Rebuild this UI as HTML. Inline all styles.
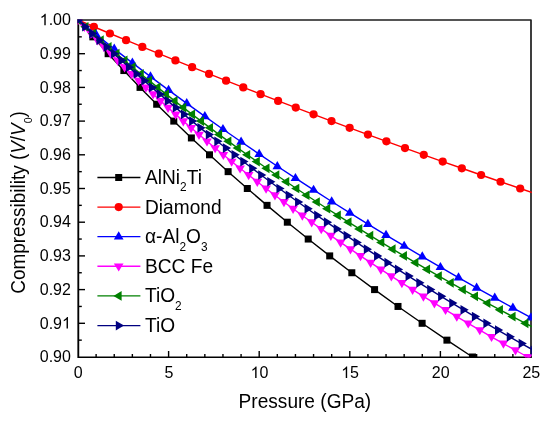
<!DOCTYPE html>
<html><head><meta charset="utf-8"><style>
html,body{margin:0;padding:0;background:#fff;}
svg{display:block;will-change:transform;font-family:"Liberation Sans",sans-serif;}
</style></head><body>
<svg width="550" height="421" viewBox="0 0 550 421">
<rect width="550" height="421" fill="#fff"/>
<defs><clipPath id="cp"><rect x="77.6" y="19.4" width="454.2" height="338.0"/></clipPath></defs>
<g stroke="#000" stroke-width="1.4" fill="none">
<line x1="96.12" y1="357.0" x2="96.12" y2="354.0"/>
<line x1="114.24" y1="357.0" x2="114.24" y2="354.0"/>
<line x1="132.36" y1="357.0" x2="132.36" y2="354.0"/>
<line x1="150.48" y1="357.0" x2="150.48" y2="354.0"/>
<line x1="168.60" y1="357.0" x2="168.60" y2="351.0"/>
<line x1="186.72" y1="357.0" x2="186.72" y2="354.0"/>
<line x1="204.84" y1="357.0" x2="204.84" y2="354.0"/>
<line x1="222.96" y1="357.0" x2="222.96" y2="354.0"/>
<line x1="241.08" y1="357.0" x2="241.08" y2="354.0"/>
<line x1="259.20" y1="357.0" x2="259.20" y2="351.0"/>
<line x1="277.32" y1="357.0" x2="277.32" y2="354.0"/>
<line x1="295.44" y1="357.0" x2="295.44" y2="354.0"/>
<line x1="313.56" y1="357.0" x2="313.56" y2="354.0"/>
<line x1="331.68" y1="357.0" x2="331.68" y2="354.0"/>
<line x1="349.80" y1="357.0" x2="349.80" y2="351.0"/>
<line x1="367.92" y1="357.0" x2="367.92" y2="354.0"/>
<line x1="386.04" y1="357.0" x2="386.04" y2="354.0"/>
<line x1="404.16" y1="357.0" x2="404.16" y2="354.0"/>
<line x1="422.28" y1="357.0" x2="422.28" y2="354.0"/>
<line x1="440.40" y1="357.0" x2="440.40" y2="351.0"/>
<line x1="458.52" y1="357.0" x2="458.52" y2="354.0"/>
<line x1="476.64" y1="357.0" x2="476.64" y2="354.0"/>
<line x1="494.76" y1="357.0" x2="494.76" y2="354.0"/>
<line x1="512.88" y1="357.0" x2="512.88" y2="354.0"/>
<line x1="78.0" y1="36.85" x2="81.8" y2="36.85"/>
<line x1="78.0" y1="53.70" x2="85.0" y2="53.70"/>
<line x1="78.0" y1="70.55" x2="81.8" y2="70.55"/>
<line x1="78.0" y1="87.40" x2="85.0" y2="87.40"/>
<line x1="78.0" y1="104.25" x2="81.8" y2="104.25"/>
<line x1="78.0" y1="121.10" x2="85.0" y2="121.10"/>
<line x1="78.0" y1="137.95" x2="81.8" y2="137.95"/>
<line x1="78.0" y1="154.80" x2="85.0" y2="154.80"/>
<line x1="78.0" y1="171.65" x2="81.8" y2="171.65"/>
<line x1="78.0" y1="188.50" x2="85.0" y2="188.50"/>
<line x1="78.0" y1="205.35" x2="81.8" y2="205.35"/>
<line x1="78.0" y1="222.20" x2="85.0" y2="222.20"/>
<line x1="78.0" y1="239.05" x2="81.8" y2="239.05"/>
<line x1="78.0" y1="255.90" x2="85.0" y2="255.90"/>
<line x1="78.0" y1="272.75" x2="81.8" y2="272.75"/>
<line x1="78.0" y1="289.60" x2="85.0" y2="289.60"/>
<line x1="78.0" y1="306.45" x2="81.8" y2="306.45"/>
<line x1="78.0" y1="323.30" x2="85.0" y2="323.30"/>
<line x1="78.0" y1="340.15" x2="81.8" y2="340.15"/>
</g>
<g fill="none" stroke-linejoin="round">
<path d="M78.3,20.0 L531.0,20.0 L531.0,357.0" stroke="#1e1e1e" stroke-width="1.7"/>
<path d="M78.3,19.15 L78.3,358.05" stroke="#000" stroke-width="1.85"/>
<path d="M78.0,357.3 L531.85,357.3" stroke="#000" stroke-width="1.5"/>
</g>
<g clip-path="url(#cp)"><path d="M78.00,20.00 L92.86,36.85 L108.14,53.70 L123.86,70.55 L140.03,87.40 L156.67,104.25 L173.78,121.10 L191.38,137.95 L209.50,154.80 L228.13,171.65 L247.30,188.50 L267.03,205.35 L287.32,222.20 L308.21,239.05 L329.70,255.90 L351.82,272.75 L374.58,289.60 L398.00,306.45 L422.12,323.30 L446.93,340.15 L472.48,357.00 L498.78,373.85" fill="none" stroke="#000000" stroke-width="1.4"/><rect x="74.50" y="16.50" width="7.00" height="7.00" fill="#000000"/><rect x="89.36" y="33.35" width="7.00" height="7.00" fill="#000000"/><rect x="104.64" y="50.20" width="7.00" height="7.00" fill="#000000"/><rect x="120.36" y="67.05" width="7.00" height="7.00" fill="#000000"/><rect x="136.53" y="83.90" width="7.00" height="7.00" fill="#000000"/><rect x="153.17" y="100.75" width="7.00" height="7.00" fill="#000000"/><rect x="170.28" y="117.60" width="7.00" height="7.00" fill="#000000"/><rect x="187.88" y="134.45" width="7.00" height="7.00" fill="#000000"/><rect x="206.00" y="151.30" width="7.00" height="7.00" fill="#000000"/><rect x="224.63" y="168.15" width="7.00" height="7.00" fill="#000000"/><rect x="243.80" y="185.00" width="7.00" height="7.00" fill="#000000"/><rect x="263.53" y="201.85" width="7.00" height="7.00" fill="#000000"/><rect x="283.82" y="218.70" width="7.00" height="7.00" fill="#000000"/><rect x="304.71" y="235.55" width="7.00" height="7.00" fill="#000000"/><rect x="326.20" y="252.40" width="7.00" height="7.00" fill="#000000"/><rect x="348.32" y="269.25" width="7.00" height="7.00" fill="#000000"/><rect x="371.08" y="286.10" width="7.00" height="7.00" fill="#000000"/><rect x="394.50" y="302.95" width="7.00" height="7.00" fill="#000000"/><rect x="418.62" y="319.80" width="7.00" height="7.00" fill="#000000"/><rect x="443.43" y="336.65" width="7.00" height="7.00" fill="#000000"/><rect x="468.98" y="353.50" width="7.00" height="7.00" fill="#000000"/><rect x="495.28" y="370.35" width="7.00" height="7.00" fill="#000000"/></g>
<g clip-path="url(#cp)"><path d="M78.00,20.00 L93.88,26.74 L109.90,33.48 L126.06,40.22 L142.36,46.96 L158.81,53.70 L175.41,60.44 L192.15,67.18 L209.04,73.92 L226.07,80.66 L243.26,87.40 L260.60,94.14 L278.10,100.88 L295.75,107.62 L313.56,114.36 L331.52,121.10 L349.65,127.84 L367.93,134.58 L386.38,141.32 L404.99,148.06 L423.77,154.80 L442.71,161.54 L461.83,168.28 L481.11,175.02 L500.57,181.76 L520.19,188.50 L540.00,195.24" fill="none" stroke="#ff0000" stroke-width="1.4"/><circle cx="78.00" cy="20.00" r="4.1" fill="#ff0000"/><circle cx="93.88" cy="26.74" r="4.1" fill="#ff0000"/><circle cx="109.90" cy="33.48" r="4.1" fill="#ff0000"/><circle cx="126.06" cy="40.22" r="4.1" fill="#ff0000"/><circle cx="142.36" cy="46.96" r="4.1" fill="#ff0000"/><circle cx="158.81" cy="53.70" r="4.1" fill="#ff0000"/><circle cx="175.41" cy="60.44" r="4.1" fill="#ff0000"/><circle cx="192.15" cy="67.18" r="4.1" fill="#ff0000"/><circle cx="209.04" cy="73.92" r="4.1" fill="#ff0000"/><circle cx="226.07" cy="80.66" r="4.1" fill="#ff0000"/><circle cx="243.26" cy="87.40" r="4.1" fill="#ff0000"/><circle cx="260.60" cy="94.14" r="4.1" fill="#ff0000"/><circle cx="278.10" cy="100.88" r="4.1" fill="#ff0000"/><circle cx="295.75" cy="107.62" r="4.1" fill="#ff0000"/><circle cx="313.56" cy="114.36" r="4.1" fill="#ff0000"/><circle cx="331.52" cy="121.10" r="4.1" fill="#ff0000"/><circle cx="349.65" cy="127.84" r="4.1" fill="#ff0000"/><circle cx="367.93" cy="134.58" r="4.1" fill="#ff0000"/><circle cx="386.38" cy="141.32" r="4.1" fill="#ff0000"/><circle cx="404.99" cy="148.06" r="4.1" fill="#ff0000"/><circle cx="423.77" cy="154.80" r="4.1" fill="#ff0000"/><circle cx="442.71" cy="161.54" r="4.1" fill="#ff0000"/><circle cx="461.83" cy="168.28" r="4.1" fill="#ff0000"/><circle cx="481.11" cy="175.02" r="4.1" fill="#ff0000"/><circle cx="500.57" cy="181.76" r="4.1" fill="#ff0000"/><circle cx="520.19" cy="188.50" r="4.1" fill="#ff0000"/><circle cx="540.00" cy="195.24" r="4.1" fill="#ff0000"/></g>
<g clip-path="url(#cp)"><path d="M78.00,20.00 L96.12,34.58 L114.24,48.88 L132.36,62.90 L150.48,76.65 L168.60,90.15 L186.72,103.41 L204.84,116.42 L222.96,129.21 L241.08,141.77 L259.20,154.12 L277.32,166.26 L295.44,178.20 L313.56,189.95 L331.68,201.50 L349.80,212.88 L367.92,224.07 L386.04,235.10 L404.16,245.96 L422.28,256.65 L440.40,267.19 L458.52,277.57 L476.64,287.81 L494.76,297.90 L512.88,307.85 L531.00,317.66 L549.12,327.34" fill="none" stroke="#0000ff" stroke-width="1.4"/><polygon points="78.00,14.70 82.85,22.90 73.15,22.90" fill="#0000ff"/><polygon points="96.12,29.28 100.97,37.48 91.27,37.48" fill="#0000ff"/><polygon points="114.24,43.58 119.09,51.78 109.39,51.78" fill="#0000ff"/><polygon points="132.36,57.60 137.21,65.80 127.51,65.80" fill="#0000ff"/><polygon points="150.48,71.35 155.33,79.55 145.63,79.55" fill="#0000ff"/><polygon points="168.60,84.85 173.45,93.05 163.75,93.05" fill="#0000ff"/><polygon points="186.72,98.11 191.57,106.31 181.87,106.31" fill="#0000ff"/><polygon points="204.84,111.12 209.69,119.32 199.99,119.32" fill="#0000ff"/><polygon points="222.96,123.91 227.81,132.11 218.11,132.11" fill="#0000ff"/><polygon points="241.08,136.47 245.93,144.67 236.23,144.67" fill="#0000ff"/><polygon points="259.20,148.82 264.05,157.02 254.35,157.02" fill="#0000ff"/><polygon points="277.32,160.96 282.17,169.16 272.47,169.16" fill="#0000ff"/><polygon points="295.44,172.90 300.29,181.10 290.59,181.10" fill="#0000ff"/><polygon points="313.56,184.65 318.41,192.85 308.71,192.85" fill="#0000ff"/><polygon points="331.68,196.20 336.53,204.40 326.83,204.40" fill="#0000ff"/><polygon points="349.80,207.58 354.65,215.78 344.95,215.78" fill="#0000ff"/><polygon points="367.92,218.77 372.77,226.97 363.07,226.97" fill="#0000ff"/><polygon points="386.04,229.80 390.89,238.00 381.19,238.00" fill="#0000ff"/><polygon points="404.16,240.66 409.01,248.86 399.31,248.86" fill="#0000ff"/><polygon points="422.28,251.35 427.13,259.55 417.43,259.55" fill="#0000ff"/><polygon points="440.40,261.89 445.25,270.09 435.55,270.09" fill="#0000ff"/><polygon points="458.52,272.27 463.37,280.47 453.67,280.47" fill="#0000ff"/><polygon points="476.64,282.51 481.49,290.71 471.79,290.71" fill="#0000ff"/><polygon points="494.76,292.60 499.61,300.80 489.91,300.80" fill="#0000ff"/><polygon points="512.88,302.55 517.73,310.75 508.03,310.75" fill="#0000ff"/><polygon points="531.00,312.36 535.85,320.56 526.15,320.56" fill="#0000ff"/><polygon points="549.12,322.04 553.97,330.24 544.27,330.24" fill="#0000ff"/></g>
<g clip-path="url(#cp)"><path d="M78.00,20.00 L84.39,26.74 L90.87,33.48 L97.43,40.22 L104.08,46.96 L110.81,53.70 L117.64,60.44 L124.56,67.18 L131.57,73.92 L138.67,80.66 L145.87,87.40 L153.17,94.14 L160.56,100.88 L168.05,107.62 L175.64,114.36 L183.33,121.10 L191.12,127.84 L199.01,134.58 L207.01,141.32 L215.12,148.06 L223.34,154.80 L231.66,161.54 L240.09,168.28 L248.64,175.02 L257.30,181.76 L266.07,188.50 L274.96,195.24 L283.97,201.98 L293.10,208.72 L302.35,215.46 L311.72,222.20 L321.22,228.94 L330.84,235.68 L340.59,242.42 L350.47,249.16 L360.49,255.90 L370.63,262.64 L380.91,269.38 L391.33,276.12 L401.88,282.86 L412.58,289.60 L423.41,296.34 L434.40,303.08 L445.52,309.82 L456.80,316.56 L468.23,323.30 L479.81,330.04 L491.54,336.78 L503.43,343.52 L515.48,350.26 L527.68,357.00 L540.06,363.74" fill="none" stroke="#ff00ff" stroke-width="1.4"/><polygon points="78.00,25.30 82.85,17.10 73.15,17.10" fill="#ff00ff"/><polygon points="84.39,32.04 89.24,23.84 79.54,23.84" fill="#ff00ff"/><polygon points="90.87,38.78 95.72,30.58 86.02,30.58" fill="#ff00ff"/><polygon points="97.43,45.52 102.28,37.32 92.58,37.32" fill="#ff00ff"/><polygon points="104.08,52.26 108.93,44.06 99.23,44.06" fill="#ff00ff"/><polygon points="110.81,59.00 115.66,50.80 105.96,50.80" fill="#ff00ff"/><polygon points="117.64,65.74 122.49,57.54 112.79,57.54" fill="#ff00ff"/><polygon points="124.56,72.48 129.41,64.28 119.71,64.28" fill="#ff00ff"/><polygon points="131.57,79.22 136.42,71.02 126.72,71.02" fill="#ff00ff"/><polygon points="138.67,85.96 143.52,77.76 133.82,77.76" fill="#ff00ff"/><polygon points="145.87,92.70 150.72,84.50 141.02,84.50" fill="#ff00ff"/><polygon points="153.17,99.44 158.02,91.24 148.32,91.24" fill="#ff00ff"/><polygon points="160.56,106.18 165.41,97.98 155.71,97.98" fill="#ff00ff"/><polygon points="168.05,112.92 172.90,104.72 163.20,104.72" fill="#ff00ff"/><polygon points="175.64,119.66 180.49,111.46 170.79,111.46" fill="#ff00ff"/><polygon points="183.33,126.40 188.18,118.20 178.48,118.20" fill="#ff00ff"/><polygon points="191.12,133.14 195.97,124.94 186.27,124.94" fill="#ff00ff"/><polygon points="199.01,139.88 203.86,131.68 194.16,131.68" fill="#ff00ff"/><polygon points="207.01,146.62 211.86,138.42 202.16,138.42" fill="#ff00ff"/><polygon points="215.12,153.36 219.97,145.16 210.27,145.16" fill="#ff00ff"/><polygon points="223.34,160.10 228.19,151.90 218.49,151.90" fill="#ff00ff"/><polygon points="231.66,166.84 236.51,158.64 226.81,158.64" fill="#ff00ff"/><polygon points="240.09,173.58 244.94,165.38 235.24,165.38" fill="#ff00ff"/><polygon points="248.64,180.32 253.49,172.12 243.79,172.12" fill="#ff00ff"/><polygon points="257.30,187.06 262.15,178.86 252.45,178.86" fill="#ff00ff"/><polygon points="266.07,193.80 270.92,185.60 261.22,185.60" fill="#ff00ff"/><polygon points="274.96,200.54 279.81,192.34 270.11,192.34" fill="#ff00ff"/><polygon points="283.97,207.28 288.82,199.08 279.12,199.08" fill="#ff00ff"/><polygon points="293.10,214.02 297.95,205.82 288.25,205.82" fill="#ff00ff"/><polygon points="302.35,220.76 307.20,212.56 297.50,212.56" fill="#ff00ff"/><polygon points="311.72,227.50 316.57,219.30 306.87,219.30" fill="#ff00ff"/><polygon points="321.22,234.24 326.07,226.04 316.37,226.04" fill="#ff00ff"/><polygon points="330.84,240.98 335.69,232.78 325.99,232.78" fill="#ff00ff"/><polygon points="340.59,247.72 345.44,239.52 335.74,239.52" fill="#ff00ff"/><polygon points="350.47,254.46 355.32,246.26 345.62,246.26" fill="#ff00ff"/><polygon points="360.49,261.20 365.34,253.00 355.64,253.00" fill="#ff00ff"/><polygon points="370.63,267.94 375.48,259.74 365.78,259.74" fill="#ff00ff"/><polygon points="380.91,274.68 385.76,266.48 376.06,266.48" fill="#ff00ff"/><polygon points="391.33,281.42 396.18,273.22 386.48,273.22" fill="#ff00ff"/><polygon points="401.88,288.16 406.73,279.96 397.03,279.96" fill="#ff00ff"/><polygon points="412.58,294.90 417.43,286.70 407.73,286.70" fill="#ff00ff"/><polygon points="423.41,301.64 428.26,293.44 418.56,293.44" fill="#ff00ff"/><polygon points="434.40,308.38 439.25,300.18 429.55,300.18" fill="#ff00ff"/><polygon points="445.52,315.12 450.37,306.92 440.67,306.92" fill="#ff00ff"/><polygon points="456.80,321.86 461.65,313.66 451.95,313.66" fill="#ff00ff"/><polygon points="468.23,328.60 473.08,320.40 463.38,320.40" fill="#ff00ff"/><polygon points="479.81,335.34 484.66,327.14 474.96,327.14" fill="#ff00ff"/><polygon points="491.54,342.08 496.39,333.88 486.69,333.88" fill="#ff00ff"/><polygon points="503.43,348.82 508.28,340.62 498.58,340.62" fill="#ff00ff"/><polygon points="515.48,355.56 520.33,347.36 510.63,347.36" fill="#ff00ff"/><polygon points="527.68,362.30 532.53,354.10 522.83,354.10" fill="#ff00ff"/><polygon points="540.06,369.04 544.91,360.84 535.21,360.84" fill="#ff00ff"/></g>
<g clip-path="url(#cp)"><path d="M78.00,20.00 L85.53,26.74 L93.15,33.48 L100.87,40.22 L108.68,46.96 L116.58,53.70 L124.58,60.44 L132.67,67.18 L140.87,73.92 L149.16,80.66 L157.56,87.40 L166.05,94.14 L174.65,100.88 L183.35,107.62 L192.16,114.36 L201.08,121.10 L210.10,127.84 L219.23,134.58 L228.48,141.32 L237.83,148.06 L247.30,154.80 L256.89,161.54 L266.59,168.28 L276.41,175.02 L286.35,181.76 L296.41,188.50 L306.59,195.24 L316.90,201.98 L327.33,208.72 L337.89,215.46 L348.58,222.20 L359.39,228.94 L370.35,235.68 L381.43,242.42 L392.65,249.16 L404.01,255.90 L415.50,262.64 L427.14,269.38 L438.92,276.12 L450.84,282.86 L462.91,289.60 L475.13,296.34 L487.50,303.08 L500.02,309.82 L512.69,316.56 L525.52,323.30 L538.51,330.04" fill="none" stroke="#008000" stroke-width="1.4"/><polygon points="72.70,20.00 80.90,15.15 80.90,24.85" fill="#008000"/><polygon points="80.23,26.74 88.43,21.89 88.43,31.59" fill="#008000"/><polygon points="87.85,33.48 96.05,28.63 96.05,38.33" fill="#008000"/><polygon points="95.57,40.22 103.77,35.37 103.77,45.07" fill="#008000"/><polygon points="103.38,46.96 111.58,42.11 111.58,51.81" fill="#008000"/><polygon points="111.28,53.70 119.48,48.85 119.48,58.55" fill="#008000"/><polygon points="119.28,60.44 127.48,55.59 127.48,65.29" fill="#008000"/><polygon points="127.37,67.18 135.57,62.33 135.57,72.03" fill="#008000"/><polygon points="135.57,73.92 143.77,69.07 143.77,78.77" fill="#008000"/><polygon points="143.86,80.66 152.06,75.81 152.06,85.51" fill="#008000"/><polygon points="152.26,87.40 160.46,82.55 160.46,92.25" fill="#008000"/><polygon points="160.75,94.14 168.95,89.29 168.95,98.99" fill="#008000"/><polygon points="169.35,100.88 177.55,96.03 177.55,105.73" fill="#008000"/><polygon points="178.05,107.62 186.25,102.77 186.25,112.47" fill="#008000"/><polygon points="186.86,114.36 195.06,109.51 195.06,119.21" fill="#008000"/><polygon points="195.78,121.10 203.98,116.25 203.98,125.95" fill="#008000"/><polygon points="204.80,127.84 213.00,122.99 213.00,132.69" fill="#008000"/><polygon points="213.93,134.58 222.13,129.73 222.13,139.43" fill="#008000"/><polygon points="223.18,141.32 231.38,136.47 231.38,146.17" fill="#008000"/><polygon points="232.53,148.06 240.73,143.21 240.73,152.91" fill="#008000"/><polygon points="242.00,154.80 250.20,149.95 250.20,159.65" fill="#008000"/><polygon points="251.59,161.54 259.79,156.69 259.79,166.39" fill="#008000"/><polygon points="261.29,168.28 269.49,163.43 269.49,173.13" fill="#008000"/><polygon points="271.11,175.02 279.31,170.17 279.31,179.87" fill="#008000"/><polygon points="281.05,181.76 289.25,176.91 289.25,186.61" fill="#008000"/><polygon points="291.11,188.50 299.31,183.65 299.31,193.35" fill="#008000"/><polygon points="301.29,195.24 309.49,190.39 309.49,200.09" fill="#008000"/><polygon points="311.60,201.98 319.80,197.13 319.80,206.83" fill="#008000"/><polygon points="322.03,208.72 330.23,203.87 330.23,213.57" fill="#008000"/><polygon points="332.59,215.46 340.79,210.61 340.79,220.31" fill="#008000"/><polygon points="343.28,222.20 351.48,217.35 351.48,227.05" fill="#008000"/><polygon points="354.09,228.94 362.29,224.09 362.29,233.79" fill="#008000"/><polygon points="365.05,235.68 373.25,230.83 373.25,240.53" fill="#008000"/><polygon points="376.13,242.42 384.33,237.57 384.33,247.27" fill="#008000"/><polygon points="387.35,249.16 395.55,244.31 395.55,254.01" fill="#008000"/><polygon points="398.71,255.90 406.91,251.05 406.91,260.75" fill="#008000"/><polygon points="410.20,262.64 418.40,257.79 418.40,267.49" fill="#008000"/><polygon points="421.84,269.38 430.04,264.53 430.04,274.23" fill="#008000"/><polygon points="433.62,276.12 441.82,271.27 441.82,280.97" fill="#008000"/><polygon points="445.54,282.86 453.74,278.01 453.74,287.71" fill="#008000"/><polygon points="457.61,289.60 465.81,284.75 465.81,294.45" fill="#008000"/><polygon points="469.83,296.34 478.03,291.49 478.03,301.19" fill="#008000"/><polygon points="482.20,303.08 490.40,298.23 490.40,307.93" fill="#008000"/><polygon points="494.72,309.82 502.92,304.97 502.92,314.67" fill="#008000"/><polygon points="507.39,316.56 515.59,311.71 515.59,321.41" fill="#008000"/><polygon points="520.22,323.30 528.42,318.45 528.42,328.15" fill="#008000"/><polygon points="533.21,330.04 541.41,325.19 541.41,334.89" fill="#008000"/></g>
<g clip-path="url(#cp)"><path d="M78.00,20.00 L85.03,26.74 L92.13,33.48 L99.31,40.22 L106.58,46.96 L113.92,53.70 L121.35,60.44 L128.86,67.18 L136.45,73.92 L144.12,80.66 L151.89,87.40 L159.74,94.14 L167.67,100.88 L175.70,107.62 L183.82,114.36 L192.02,121.10 L200.32,127.84 L208.71,134.58 L217.20,141.32 L225.78,148.06 L234.46,154.80 L243.23,161.54 L252.10,168.28 L261.08,175.02 L270.15,181.76 L279.32,188.50 L288.60,195.24 L297.99,201.98 L307.48,208.72 L317.07,215.46 L326.78,222.20 L336.59,228.94 L346.51,235.68 L356.55,242.42 L366.70,249.16 L376.97,255.90 L387.35,262.64 L397.85,269.38 L408.47,276.12 L419.21,282.86 L430.07,289.60 L441.05,296.34 L452.16,303.08 L463.40,309.82 L474.77,316.56 L486.26,323.30 L497.89,330.04 L509.64,336.78 L521.54,343.52 L533.57,350.26" fill="none" stroke="#000080" stroke-width="1.4"/><polygon points="83.30,20.00 75.10,15.15 75.10,24.85" fill="#000080"/><polygon points="90.33,26.74 82.13,21.89 82.13,31.59" fill="#000080"/><polygon points="97.43,33.48 89.23,28.63 89.23,38.33" fill="#000080"/><polygon points="104.61,40.22 96.41,35.37 96.41,45.07" fill="#000080"/><polygon points="111.88,46.96 103.68,42.11 103.68,51.81" fill="#000080"/><polygon points="119.22,53.70 111.02,48.85 111.02,58.55" fill="#000080"/><polygon points="126.65,60.44 118.45,55.59 118.45,65.29" fill="#000080"/><polygon points="134.16,67.18 125.96,62.33 125.96,72.03" fill="#000080"/><polygon points="141.75,73.92 133.55,69.07 133.55,78.77" fill="#000080"/><polygon points="149.42,80.66 141.22,75.81 141.22,85.51" fill="#000080"/><polygon points="157.19,87.40 148.99,82.55 148.99,92.25" fill="#000080"/><polygon points="165.04,94.14 156.84,89.29 156.84,98.99" fill="#000080"/><polygon points="172.97,100.88 164.77,96.03 164.77,105.73" fill="#000080"/><polygon points="181.00,107.62 172.80,102.77 172.80,112.47" fill="#000080"/><polygon points="189.12,114.36 180.92,109.51 180.92,119.21" fill="#000080"/><polygon points="197.32,121.10 189.12,116.25 189.12,125.95" fill="#000080"/><polygon points="205.62,127.84 197.42,122.99 197.42,132.69" fill="#000080"/><polygon points="214.01,134.58 205.81,129.73 205.81,139.43" fill="#000080"/><polygon points="222.50,141.32 214.30,136.47 214.30,146.17" fill="#000080"/><polygon points="231.08,148.06 222.88,143.21 222.88,152.91" fill="#000080"/><polygon points="239.76,154.80 231.56,149.95 231.56,159.65" fill="#000080"/><polygon points="248.53,161.54 240.33,156.69 240.33,166.39" fill="#000080"/><polygon points="257.40,168.28 249.20,163.43 249.20,173.13" fill="#000080"/><polygon points="266.38,175.02 258.18,170.17 258.18,179.87" fill="#000080"/><polygon points="275.45,181.76 267.25,176.91 267.25,186.61" fill="#000080"/><polygon points="284.62,188.50 276.42,183.65 276.42,193.35" fill="#000080"/><polygon points="293.90,195.24 285.70,190.39 285.70,200.09" fill="#000080"/><polygon points="303.29,201.98 295.09,197.13 295.09,206.83" fill="#000080"/><polygon points="312.78,208.72 304.58,203.87 304.58,213.57" fill="#000080"/><polygon points="322.37,215.46 314.17,210.61 314.17,220.31" fill="#000080"/><polygon points="332.08,222.20 323.88,217.35 323.88,227.05" fill="#000080"/><polygon points="341.89,228.94 333.69,224.09 333.69,233.79" fill="#000080"/><polygon points="351.81,235.68 343.61,230.83 343.61,240.53" fill="#000080"/><polygon points="361.85,242.42 353.65,237.57 353.65,247.27" fill="#000080"/><polygon points="372.00,249.16 363.80,244.31 363.80,254.01" fill="#000080"/><polygon points="382.27,255.90 374.07,251.05 374.07,260.75" fill="#000080"/><polygon points="392.65,262.64 384.45,257.79 384.45,267.49" fill="#000080"/><polygon points="403.15,269.38 394.95,264.53 394.95,274.23" fill="#000080"/><polygon points="413.77,276.12 405.57,271.27 405.57,280.97" fill="#000080"/><polygon points="424.51,282.86 416.31,278.01 416.31,287.71" fill="#000080"/><polygon points="435.37,289.60 427.17,284.75 427.17,294.45" fill="#000080"/><polygon points="446.35,296.34 438.15,291.49 438.15,301.19" fill="#000080"/><polygon points="457.46,303.08 449.26,298.23 449.26,307.93" fill="#000080"/><polygon points="468.70,309.82 460.50,304.97 460.50,314.67" fill="#000080"/><polygon points="480.07,316.56 471.87,311.71 471.87,321.41" fill="#000080"/><polygon points="491.56,323.30 483.36,318.45 483.36,328.15" fill="#000080"/><polygon points="503.19,330.04 494.99,325.19 494.99,334.89" fill="#000080"/><polygon points="514.94,336.78 506.74,331.93 506.74,341.63" fill="#000080"/><polygon points="526.84,343.52 518.64,338.67 518.64,348.37" fill="#000080"/><polygon points="538.87,350.26 530.67,345.41 530.67,355.11" fill="#000080"/></g>
<g font-size="16" fill="#000"><path transform="translate(39.76,25.20) scale(0.007812,-0.007812)" d="M763,0 L583,0 L583,1147 Q518,1085 412,1023 Q306,961 222,930 L222,1104 Q373,1175 486,1276 Q599,1377 646,1472 L763,1472 Z"/><text x="48.66" y="25.20">.00</text><text x="39.76" y="58.90">0.99</text><text x="39.76" y="92.60">0.98</text><text x="39.76" y="126.30">0.97</text><text x="39.76" y="160.00">0.96</text><text x="39.76" y="193.70">0.95</text><text x="39.76" y="227.40">0.94</text><text x="39.76" y="261.10">0.93</text><text x="39.76" y="294.80">0.92</text><text x="39.76" y="328.50">0.9</text><path transform="translate(62.00,328.50) scale(0.007812,-0.007812)" d="M763,0 L583,0 L583,1147 Q518,1085 412,1023 Q306,961 222,930 L222,1104 Q373,1175 486,1276 Q599,1377 646,1472 L763,1472 Z"/><text x="39.76" y="362.20">0.90</text><text x="73.85" y="378.00">0</text><text x="164.45" y="378.00">5</text><path transform="translate(250.60,378.00) scale(0.007812,-0.007812)" d="M763,0 L583,0 L583,1147 Q518,1085 412,1023 Q306,961 222,930 L222,1104 Q373,1175 486,1276 Q599,1377 646,1472 L763,1472 Z"/><text x="259.50" y="378.00">0</text><path transform="translate(341.20,378.00) scale(0.007812,-0.007812)" d="M763,0 L583,0 L583,1147 Q518,1085 412,1023 Q306,961 222,930 L222,1104 Q373,1175 486,1276 Q599,1377 646,1472 L763,1472 Z"/><text x="350.10" y="378.00">5</text><text x="431.80" y="378.00">20</text><text x="522.40" y="378.00">25</text></g>
<g font-size="19.7" fill="#000"><line x1="97.4" y1="177.5" x2="140.4" y2="177.5" stroke="#000000" stroke-width="1.4"/>
<rect x="115.20" y="174.00" width="7.00" height="7.00" fill="#000000"/>
<text transform="translate(145,183.9) scale(0.972,1)">AlNi<tspan font-size="12.2" dy="7.5">2</tspan><tspan dy="-7.5">Ti</tspan></text>
<line x1="97.4" y1="207.1" x2="140.4" y2="207.1" stroke="#ff0000" stroke-width="1.4"/>
<circle cx="118.70" cy="207.10" r="4.1" fill="#ff0000"/>
<text transform="translate(145,213.5) scale(0.972,1)">Diamond</text>
<line x1="97.4" y1="236.6" x2="140.4" y2="236.6" stroke="#0000ff" stroke-width="1.4"/>
<polygon points="118.70,231.30 123.55,239.50 113.85,239.50" fill="#0000ff"/>
<text transform="translate(145,243.0) scale(0.972,1)">&#945;-Al<tspan font-size="12.2" dy="7.5">2</tspan><tspan dy="-7.5">O</tspan><tspan font-size="12.2" dy="7.5">3</tspan></text>
<line x1="97.4" y1="266.3" x2="140.4" y2="266.3" stroke="#ff00ff" stroke-width="1.4"/>
<polygon points="118.70,271.60 123.55,263.40 113.85,263.40" fill="#ff00ff"/>
<text transform="translate(145,272.7) scale(0.972,1)">BCC Fe</text>
<line x1="97.4" y1="295.9" x2="140.4" y2="295.9" stroke="#008000" stroke-width="1.4"/>
<polygon points="113.40,295.90 121.60,291.05 121.60,300.75" fill="#008000"/>
<text transform="translate(145,302.3) scale(0.972,1)">TiO<tspan font-size="12.2" dy="7.5">2</tspan></text>
<line x1="97.4" y1="325.6" x2="140.4" y2="325.6" stroke="#000080" stroke-width="1.4"/>
<polygon points="124.00,325.60 115.80,320.75 115.80,330.45" fill="#000080"/>
<text transform="translate(145,332.0) scale(0.972,1)">TiO</text></g>
<text transform="translate(304.9,407.5) scale(0.99,1)" font-size="19.3" text-anchor="middle">Pressure (GPa)</text>
<text transform="translate(24.8,202.4) rotate(-90) scale(0.962,1)" font-size="19.7" text-anchor="middle">Compressibility (<tspan font-style="italic">V</tspan>/<tspan font-style="italic">V</tspan><tspan font-size="11" dy="7.5">0</tspan><tspan dy="-7.5">)</tspan></text>
</svg>
</body></html>
